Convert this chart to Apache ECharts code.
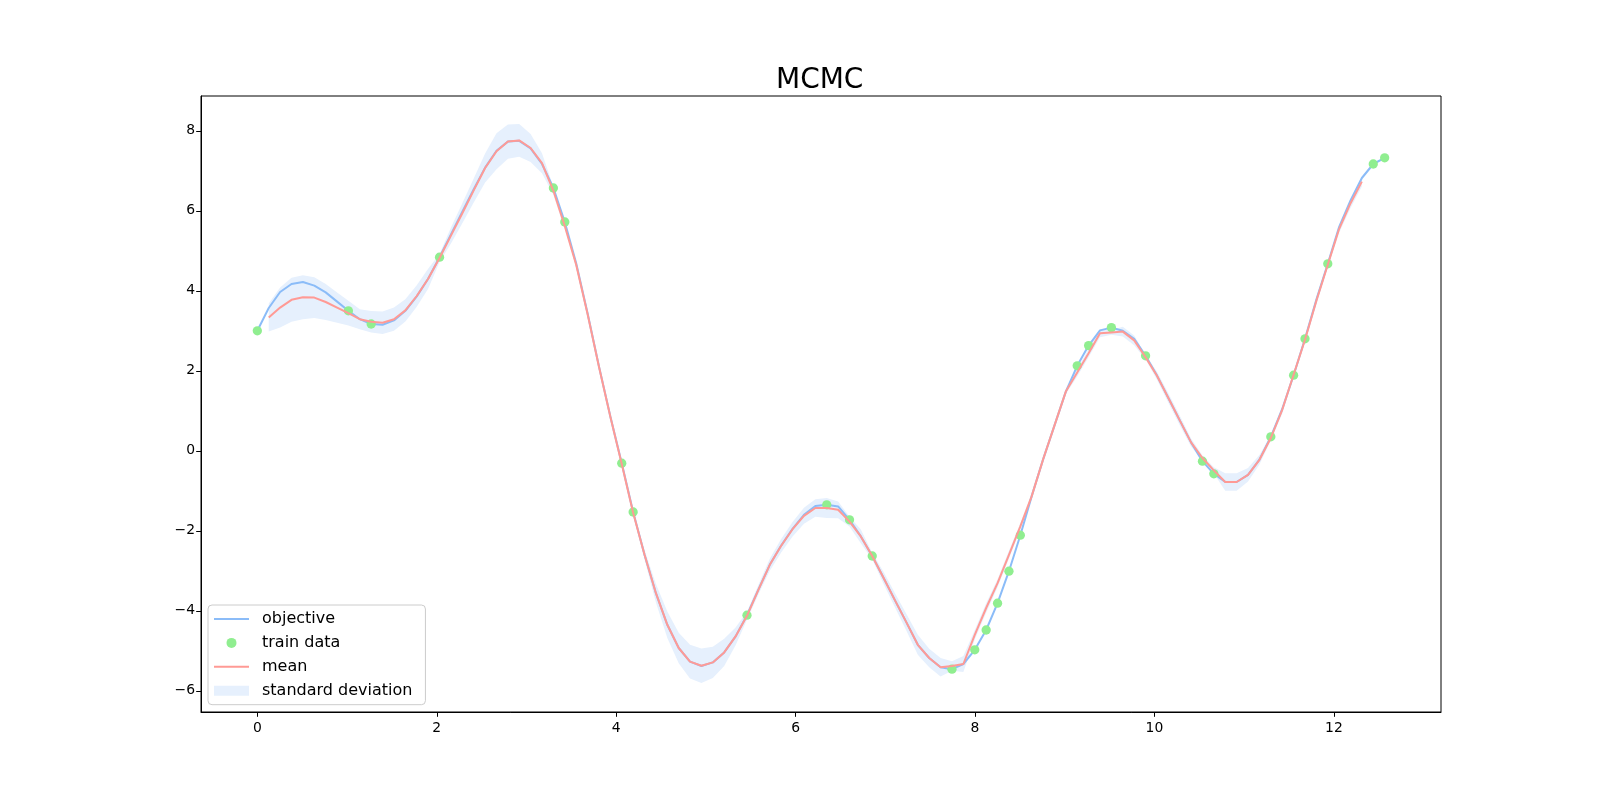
<!DOCTYPE html>
<html><head><meta charset="utf-8">
<script src="https://cdn.jsdelivr.net/npm/echarts@6/dist/echarts.min.js"></script>
<style>html,body{margin:0;padding:0;background:#fff}#c{width:1600px;height:800px}</style>
</head><body><div id="c"></div>
<script>
// x grid (100 points from 0 to 4*pi)
const xGrid = [0.000,0.127,0.254,0.381,0.508,0.635,0.762,0.889,1.015,1.142,1.269,1.396,1.523,1.650,1.777,1.904,2.031,2.158,2.285,2.412,2.539,2.666,2.793,2.919,3.046,3.173,3.300,3.427,3.554,3.681,3.808,3.935,4.062,4.189,4.316,4.443,4.570,4.697,4.823,4.950,5.077,5.204,5.331,5.458,5.585,5.712,5.839,5.966,6.093,6.220,6.347,6.474,6.601,6.727,6.854,6.981,7.108,7.235,7.362,7.489,7.616,7.743,7.870,7.997,8.124,8.251,8.378,8.505,8.631,8.758,8.885,9.012,9.139,9.266,9.393,9.520,9.647,9.774,9.901,10.028,10.155,10.282,10.408,10.535,10.662,10.789,10.916,11.043,11.170,11.297,11.424,11.551,11.678,11.805,11.932,12.059,12.186,12.312,12.439,12.566];

const objective = [3.0,3.57,3.97,4.17,4.22,4.13,3.96,3.73,3.5,3.29,3.17,3.15,3.26,3.5,3.86,4.3,4.84,5.41,5.98,6.54,7.08,7.5,7.73,7.75,7.56,7.17,6.57,5.72,4.69,3.44,2.11,0.86,-0.31,-1.53,-2.6,-3.56,-4.35,-4.93,-5.27,-5.38,-5.29,-5.04,-4.64,-4.11,-3.47,-2.85,-2.37,-1.95,-1.6,-1.38,-1.35,-1.39,-1.725,-2.14,-2.63,-3.18,-3.74,-4.29,-4.85,-5.18,-5.41,-5.46,-5.33,-4.975,-4.48,-3.81,-3.01,-2.11,-1.14,-0.22,0.63,1.48,2.125,2.63,3.01,3.08,3.0,2.8,2.375,1.88,1.32,0.76,0.21,-0.26,-0.575,-0.78,-0.78,-0.6,-0.22,0.35,1.04,1.89,2.8,3.78,4.675,5.6,6.26,6.82,7.17,7.325];

// mean and std on grid points 1..97
const meanVals = [3.33,3.58,3.775,3.84,3.83,3.72,3.58,3.44,3.29,3.225,3.2,3.29,3.51,3.87,4.3,4.82,5.38,5.94,6.51,7.07,7.49,7.73,7.76,7.57,7.19,6.5,5.62,4.65,3.42,2.1,0.85,-0.33,-1.55,-2.6,-3.56,-4.35,-4.93,-5.27,-5.375,-5.29,-5.04,-4.64,-4.125,-3.475,-2.85,-2.375,-1.96,-1.625,-1.43,-1.43,-1.475,-1.77,-2.14,-2.63,-3.18,-3.74,-4.29,-4.85,-5.18,-5.41,-5.38,-5.33,-4.6,-3.93,-3.31,-2.6,-1.89,-1.14,-0.22,0.63,1.48,1.96,2.44,2.94,2.96,2.98,2.76,2.34,1.875,1.32,0.76,0.21,-0.18,-0.49,-0.78,-0.78,-0.6,-0.225,0.32,1.025,1.9,2.775,3.75,4.65,5.55,6.19,6.73];
const stdVals = [0.35,0.5,0.55,0.55,0.51,0.45,0.38,0.31,0.25,0.27,0.28,0.29,0.28,0.27,0.25,0.1,0.2,0.25,0.3,0.36,0.45,0.43,0.41,0.35,0.25,0.1,0.08,0.07,0.08,0.08,0.07,0.05,0.05,0.12,0.23,0.33,0.38,0.42,0.43,0.39,0.34,0.22,0.1,0.12,0.15,0.17,0.18,0.2,0.22,0.25,0.21,0.12,0.17,0.08,0.15,0.18,0.21,0.25,0.23,0.23,0.12,0.2,0.12,0.12,0.1,0.1,0.08,0.08,0.06,0.06,0.06,0.1,0.1,0.1,0.06,0.12,0.12,0.06,0.1,0.12,0.12,0.1,0.06,0.08,0.22,0.22,0.17,0.12,0.06,0.1,0.06,0.06,0.1,0.06,0.1,0.12,0.12];

const trainX = [0.000,1.015,1.269,2.031,3.300,3.427,4.062,4.189,5.458,6.347,6.601,6.854,7.743,7.997,8.124,8.251,8.378,8.505,9.139,9.266,9.520,9.901,10.535,10.662,11.297,11.551,11.678,11.932,12.439,12.566];
const trainY = [3.0,3.5,3.17,4.84,6.57,5.72,-0.31,-1.53,-4.11,-1.35,-1.725,-2.63,-5.46,-4.975,-4.48,-3.81,-3.01,-2.11,2.125,2.63,3.08,2.375,-0.26,-0.575,0.35,1.89,2.8,4.675,7.17,7.325];

const xTicks = [0,2,4,6,8,10,12];
const yTicks = [-6,-4,-2,0,2,4,6,8];

const C_OBJ = '#8bbcf8', C_TRAIN = '#90ee90', C_MEAN = '#ff9a95', C_BAND = '#e6f0fd';
const FONT = 'DejaVu Sans';
const LINE_ICON = 'path://M0,0H35V2H0Z';

const meanX = xGrid.slice(1, 1 + meanVals.length);
const objData = xGrid.map((x, i) => [x, objective[i]]);
const trainData = trainX.map((x, i) => [x, trainY[i]]);
const meanData = meanX.map((x, i) => [x, meanVals[i]]);
const bandData = meanX.map((x, i) => [x, meanVals[i] - stdVals[i], meanVals[i] + stdVals[i]]);

const fmt = v => String(v).replace('-', '\u2212');

const chart = echarts.init(document.getElementById('c'), null, {renderer: 'canvas'});
chart.setOption({
  animation: false,
  backgroundColor: '#fff',
  title: {
    text: 'MCMC', left: 776, top: 67, padding: 0,
    textStyle: {fontFamily: FONT, fontSize: 28, fontWeight: 'normal', color: '#000'}
  },
  grid: {left: 201, top: 96, width: 1240, height: 616, show: true, borderColor: '#000', borderWidth: 1, containLabel: false},
  xAxis: {
    type: 'value', min: -0.628, max: 13.194,
    axisLine: {show: true, onZero: false, lineStyle: {color: '#000', width: 1}},
    axisTick: {show: true, length: 4.8, lineStyle: {color: '#000'}, customValues: xTicks},
    axisLabel: {show: true, margin: 9, fontFamily: FONT, fontSize: 13.9, color: '#000', customValues: xTicks, formatter: fmt},
    splitLine: {show: false}
  },
  yAxis: {
    type: 'value', min: -6.53, max: 8.87,
    axisLine: {show: true, onZero: false, lineStyle: {color: '#000', width: 1}},
    axisTick: {show: true, length: 4.8, lineStyle: {color: '#000'}, customValues: yTicks},
    axisLabel: {show: true, margin: 6, fontFamily: FONT, fontSize: 13.9, color: '#000', customValues: yTicks, formatter: fmt},
    splitLine: {show: false}
  },
  legend: {
    orient: 'vertical', left: 208, top: 605,
    itemWidth: 35, itemHeight: 10, itemGap: 7.9,
    padding: [6, 13, 6, 6],
    backgroundColor: 'rgba(255,255,255,0.8)', borderColor: '#cccccc', borderWidth: 1, borderRadius: 4,
    textStyle: {fontFamily: FONT, fontSize: 16, color: '#000', padding: [0, 0, 0, 8]},
    data: [
      {name: 'objective', icon: LINE_ICON},
      {name: 'train data', icon: 'circle'},
      {name: 'mean', icon: LINE_ICON},
      {name: 'standard deviation', icon: 'rect'}
    ]
  },
  series: [
    {
      name: 'standard deviation', type: 'custom', z: 1,
      itemStyle: {color: C_BAND},
      encode: {x: 0, y: [1, 2]},
      data: bandData,
      renderItem: function (params, api) {
        if (params.dataIndex !== 0) return null;
        const pts = [];
        for (let i = 0; i < bandData.length; i++) pts.push(api.coord([bandData[i][0], bandData[i][2]]));
        for (let i = bandData.length - 1; i >= 0; i--) pts.push(api.coord([bandData[i][0], bandData[i][1]]));
        return {type: 'polygon', shape: {points: pts}, style: {fill: C_BAND}, silent: true};
      }
    },
    {
      name: 'objective', type: 'line', z: 2, data: objData, symbol: 'none', smooth: false,
      lineStyle: {color: C_OBJ, width: 2}, itemStyle: {color: C_OBJ}
    },
    {
      name: 'train data', type: 'scatter', z: 3, data: trainData, symbol: 'circle', symbolSize: 9.3,
      itemStyle: {color: C_TRAIN, opacity: 1}
    },
    {
      name: 'mean', type: 'line', z: 4, data: meanData, symbol: 'none', smooth: false,
      lineStyle: {color: C_MEAN, width: 2}, itemStyle: {color: C_MEAN}
    }
  ]
});
</script></body></html>
